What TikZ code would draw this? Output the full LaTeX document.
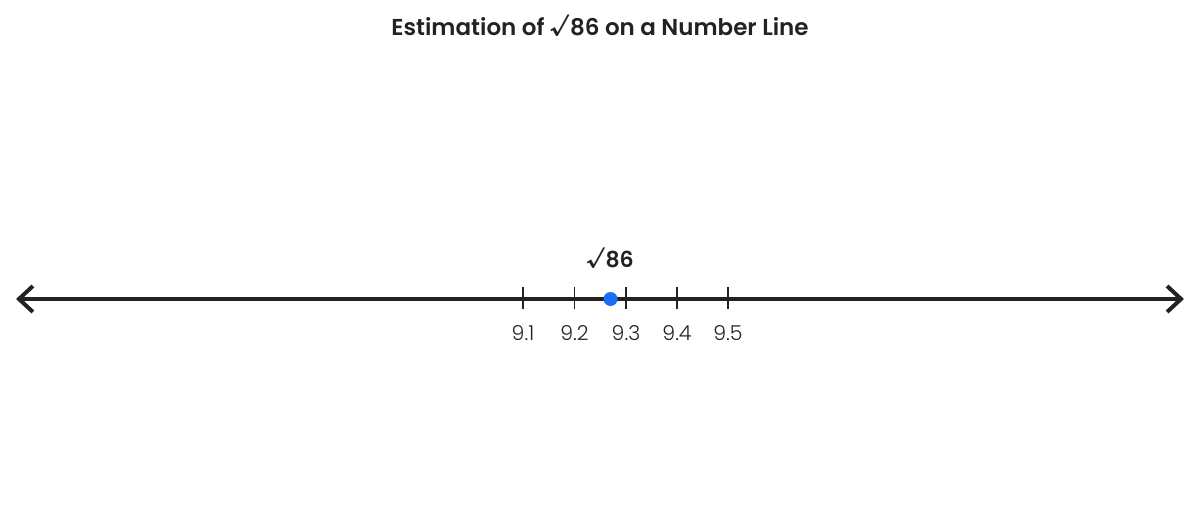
\documentclass[tikz,border=0pt]{standalone}
\usepackage{fontspec}
\setmainfont{Poppins}
\newfontfamily\titlefont{Poppins SemiBold}
\newfontfamily\lightfont{Poppins Light}
\usetikzlibrary{arrows.meta}
\definecolor{ink}{HTML}{222222}
\definecolor{dotblue}{HTML}{1A6EF5}

\begin{document}
\begin{tikzpicture}[x=1pt,y=-1pt,
    every node/.style={inner sep=0,outer sep=1,text=ink},
    ticklbl/.style={font=\lightfont\fontsize{20.5}{22}\selectfont},
    tickmark/.style={draw=ink,line width=1.5pt}]
    \useasboundingbox (0,0) rectangle (1200,530);
    \node(title) at (600,26) {\titlefont\fontsize{23}{26}\selectfont Estimation of √86 on a Number Line};
    \coordinate(lend) at (16,299);
    \coordinate(rend) at (1184,299);
    \draw[ink,line width=4pt,{Straight Barb[length=14pt,width=26pt,line width=4pt]}-{Straight Barb[length=14pt,width=26pt,line width=4pt]}]
    (lend)--(rend);
    \draw[tickmark] (523,287)--(523,309);
    \draw[tickmark] (574.5,287)--(574.5,309);
    \draw[tickmark] (626,287)--(626,309);
    \draw[tickmark] (677,287)--(677,309);
    \draw[tickmark] (728,287)--(728,309);
    \node[ticklbl](l1) at (523,333) {9.1};
    \node[ticklbl](l2) at (574.5,333) {9.2};
    \node[ticklbl](l3) at (626,333) {9.3};
    \node[ticklbl](l4) at (677,333) {9.4};
    \node[ticklbl](l5) at (728,333) {9.5};
    \node[circle,fill=dotblue,minimum size=14pt](pt) at (610.5,299) {};
    \node(ptlbl) at (610,258) {\titlefont\fontsize{22}{24}\selectfont √86};
\end{tikzpicture}
\end{document}
